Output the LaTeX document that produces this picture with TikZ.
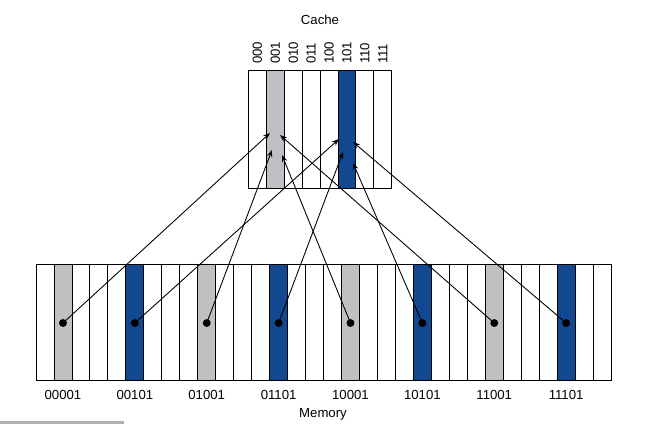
\documentclass[tikz,border=0pt]{standalone}
\usepackage{fontspec}
\setmainfont{Liberation Sans}
\usetikzlibrary{arrows.meta}
\definecolor{slotblue}{RGB}{18,72,145}
\definecolor{slotgray}{RGB}{190,192,196}
\begin{document}
\begin{tikzpicture}[x=0.02cm,y=-0.02cm,
    font=\fontsize{7.5}{9}\selectfont,
    slot/.style={draw=black, line width=0.5pt},
    link/.style={-{Stealth[length=4pt,width=3pt]}, line width=0.5pt},
    dot/.style={circle, fill=black, inner sep=0pt, minimum size=4.5pt}]

    % Background and margins
    \useasboundingbox (0,0) rectangle (664,424);
    \fill[gray!60] (0,421) rectangle (124,424);

    % Cache slots
    \foreach \i in {0,...,7}
        \draw[slot] ({248.5+17.9*\i},70) rectangle ({248.5+17.9*(\i+1)},188);
    \fill[slotgray, draw=black, line width=0.5pt] (266.4,70) rectangle (284.3,188);
    \fill[slotblue, draw=black, line width=0.5pt] (338.0,70) rectangle (355.9,188);
    \foreach \lab [count=\i from 0] in {000,001,010,011,100,101,110,111}
        \node[rotate=90, anchor=west, inner sep=1pt] at ({257.45+17.9*\i},66) {\lab};
    \node (cache) at (320,20) {Cache};

    % Memory slots
    \foreach \i in {0,...,31}
        \draw[slot] ({36+17.97*\i},264) rectangle ({36+17.97*(\i+1)},380);
    \foreach \k/\lab in {0/00001,1/00101,2/01001,3/01101,4/10001,5/10101,6/11001,7/11101} {
        \pgfmathtruncatemacro{\col}{4*\k+1}
        \pgfmathsetmacro{\xl}{36+17.97*\col}
        \ifodd\k
            \fill[slotblue, draw=black, line width=0.5pt] (\xl,264) rectangle (\xl+17.97,380);
        \else
            \fill[slotgray, draw=black, line width=0.5pt] (\xl,264) rectangle (\xl+17.97,380);
        \fi
        \node[dot] (m\k) at (\xl+9,323) {};
        \node at (\xl+9,395) {\lab};
    }
    \node (memory) at (323,414) {Memory};

    % Arrow ends in the cache
    \coordinate (c0) at (270,133);
    \coordinate (c2) at (272,150);
    \coordinate (c4) at (282,155);
    \coordinate (c6) at (280,135);
    \coordinate (c1) at (339,139);
    \coordinate (c3) at (343,152);
    \coordinate (c5) at (353,163);
    \coordinate (c7) at (353,142);

    % Mapping arrows
    \foreach \k in {0,...,7}
        \draw[link] (m\k.center) -- (c\k);
\end{tikzpicture}
\end{document}
